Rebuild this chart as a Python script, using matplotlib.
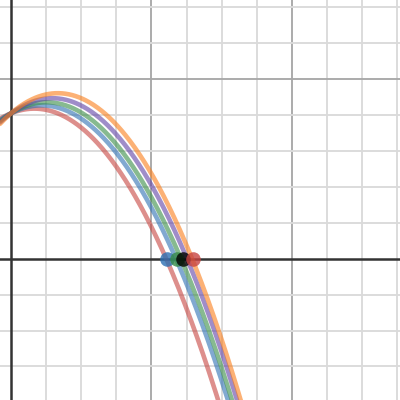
import numpy as np
import matplotlib.pyplot as plt

# curves y = y0 + b*x - a*x^2 (x, y in grid cells)
y0 = 4.05
curve_colors = ["#c74440", "#2d70b3", "#388c46", "#6042a6", "#fa7e19"]
curve_b = [0.393, 0.508, 0.606, 0.715, 0.84]
curve_a = [0.296, 0.2914, 0.2978, 0.3037, 0.315]

# points on the x axis
dot_x = [4.453, 4.721, 4.909, 5.177]
dot_colors = ["#2d70b3", "#388c46", "#000000", "#c74440"]

xmin, xmax = -11 / 35.1, 389 / 35.1
ymin, ymax = -141.3 / 35.9, 258.7 / 35.9

fig = plt.figure(figsize=(4, 4), dpi=100)
ax = fig.add_axes([0, 0, 1, 1])
ax.set_xlim(xmin, xmax)
ax.set_ylim(ymin, ymax)
ax.axis("off")

# grid: minor every cell, major every 4 (x) / 5 (y)
for gx in range(-1, 12):
    if gx == 0:
        continue
    major = gx % 4 == 0
    ax.axvline(gx, color="#a8a8a8" if major else "#dadada", lw=1.35, zorder=1)
for gy in range(-4, 8):
    if gy == 0:
        continue
    major = gy % 5 == 0
    ax.axhline(gy, color="#a8a8a8" if major else "#dadada", lw=1.35, zorder=1)
ax.axvline(0, color="#333333", lw=1.8, zorder=2)
ax.axhline(0, color="#333333", lw=1.8, zorder=2)

x = np.linspace(xmin, xmax, 600)
for b, a, c in zip(curve_b, curve_a, curve_colors):
    ax.plot(x, y0 + b * x - a * x ** 2, color=c, lw=3.3, alpha=0.6,
            solid_capstyle="round", zorder=3)

for dx, c in zip(dot_x, dot_colors):
    ax.plot(dx, 0, "o", color=c, ms=10.5, alpha=0.8, mew=0, zorder=4)

fig.savefig("out.png", dpi=100)
